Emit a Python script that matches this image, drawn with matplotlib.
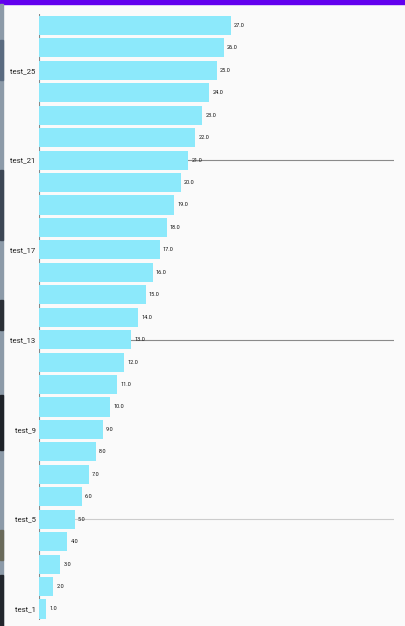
import matplotlib
matplotlib.use('Agg')
import matplotlib.pyplot as plt
from matplotlib.patches import Rectangle

plt.rcParams['font.family'] = ['Roboto', 'DejaVu Sans']

# Data
labels = ['test_%d' % i for i in range(1, 28)]
values = [1.0, 2.0, 3.0, 4.0, 5.0, 6.0, 7.0, 8.0, 9.0, 10.0, 11.0, 12.0, 13.0, 14.0,
          15.0, 16.0, 17.0, 18.0, 19.0, 20.0, 21.0, 22.0, 23.0, 24.0, 25.0, 26.0, 27.0]
tick_labels = ['test_1', 'test_5', 'test_9', 'test_13', 'test_17', 'test_21', 'test_25']
grid_rows = [5, 13, 21]

W, H = 405, 626
fig = plt.figure(figsize=(W / 100, H / 100), dpi=100)
fig.patch.set_facecolor('#fafafa')

# status bar + left screen strip
fig.patches.append(Rectangle((0, 1 - 4 / H), 1, 4 / H, transform=fig.transFigure,
                             color='#6200ee', zorder=0))
fig.patches.append(Rectangle((0, 0), 3 / W, 1 - 4 / H, transform=fig.transFigure,
                             color='#8c9aa8', zorder=0))
for y0, y1, c in [(40, 80, '#5a6b80'), (170, 240, '#3c4654'), (300, 330, '#2a2f36'),
                  (395, 450, '#1e2228'), (530, 560, '#6a6a5a'), (575, 626, '#22262c')]:
    fig.patches.append(Rectangle((0, 1 - y1 / H), 3 / W, (y1 - y0) / H,
                                 transform=fig.transFigure, color=c, zorder=0))

ax = fig.add_axes([39 / W, 5.8 / H, 355 / W, 606 / H])
ax.set_facecolor('#fafafa')

pos = list(range(1, 28))
ax.axvline(0, color='#888888', lw=0.8, zorder=1)
for r in grid_rows:
    c = '#cccccc' if r == 5 else '#8a8a8a'
    ax.axhline(r, color=c, lw=0.8, zorder=1)

ax.barh(pos, values, height=0.85, color='#8ce9fb', zorder=2)
for p, v in zip(pos, values):
    ax.text(v + 0.45, p, '%.1f' % v, va='center', ha='left', fontsize=4.0,
            color='#111111', zorder=3)

ax.set_xlim(0, 50)
ax.set_ylim(0.5, 27.5)
ax.set_yticks([1, 5, 9, 13, 17, 21, 25])
ax.set_yticklabels(tick_labels, fontsize=5.6, color='#222222')
ax.tick_params(axis='y', length=0, pad=2.5)
ax.set_xticks([])
for s in ax.spines.values():
    s.set_visible(False)

fig.savefig('out.png', dpi=100, facecolor=fig.get_facecolor())
